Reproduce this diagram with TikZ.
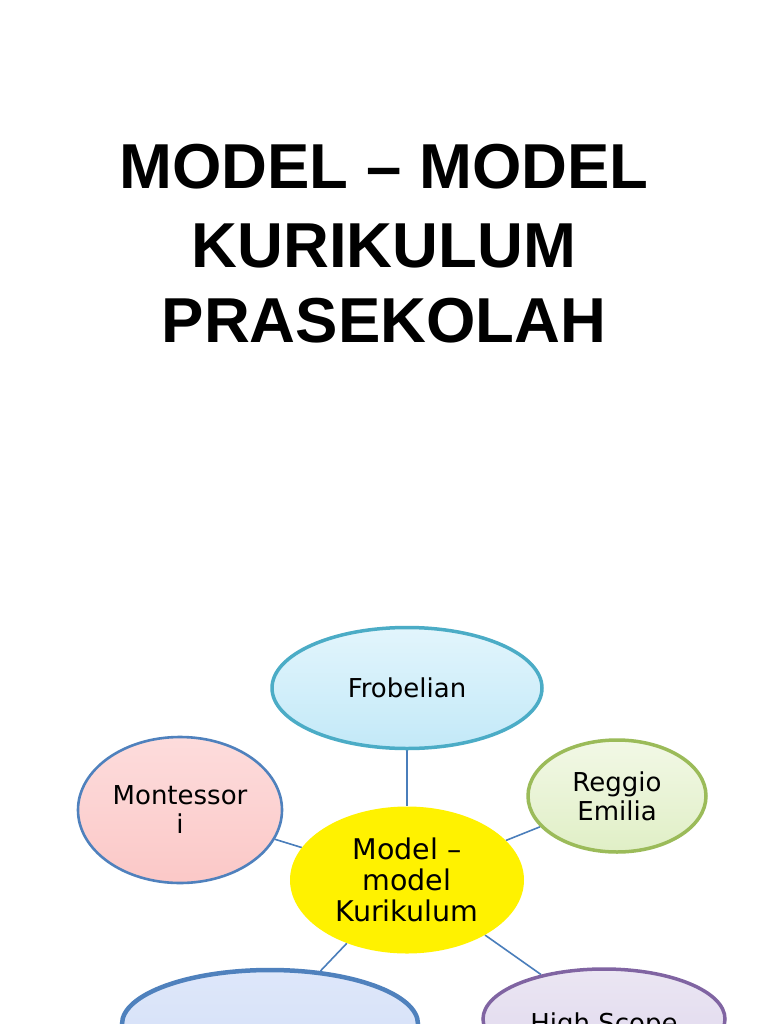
\documentclass[tikz,border=0pt]{standalone}
\usepackage{fontspec}
\setmainfont{DejaVu Sans}
\newfontfamily\titlefont{Liberation Sans}
\usetikzlibrary{shapes.geometric,backgrounds}
\definecolor{frobB}{HTML}{4BACC6}
\definecolor{frobT}{HTML}{E2F5FC}
\definecolor{frobU}{HTML}{C3E9F8}
\definecolor{monB}{HTML}{4F81BD}
\definecolor{monT}{HTML}{FDDCDC}
\definecolor{monU}{HTML}{FBC8C7}
\definecolor{regB}{HTML}{9BBB59}
\definecolor{regT}{HTML}{F2F8E6}
\definecolor{regU}{HTML}{E0EFC6}
\definecolor{kiB}{HTML}{4F81BD}
\definecolor{kiT}{HTML}{DEE7FA}
\definecolor{kiU}{HTML}{D3DFF7}
\definecolor{hsB}{HTML}{8064A2}
\definecolor{hsT}{HTML}{EBE6F3}
\definecolor{hsU}{HTML}{DFD7ED}
\definecolor{linkC}{HTML}{4A7EBB}
\tikzset{
  titleline/.style={anchor=base, inner sep=0pt, font=\titlefont\bfseries\fontsize{63.5}{76}\selectfont},
  bubble/.style={ellipse, inner sep=0pt, align=center, font=\fontsize{26}{29}\selectfont, text=black},
  link/.style={draw=linkC, line width=1.6pt}
}
\begin{document}
\begin{tikzpicture}[x=1pt,y=-1pt]
\clip (0,0) rectangle (768,1024);
% title
\node[titleline] (t1) at (384,189) {MODEL – MODEL};
\node[titleline] (t2) at (384,267) {KURIKULUM};
\node[titleline] (t3) at (384,342) {PRASEKOLAH};
% bubbles
\node[bubble, draw=frobB, line width=3.5pt, top color=frobT, bottom color=frobU,
      minimum width=270, minimum height=121] (frob) at (407,688) {Frobelian};
\node[bubble, draw=monB, line width=2.6pt, top color=monT, bottom color=monU,
      minimum width=204, minimum height=146] (mon) at (180,810) {Montessor\\i};
\node[bubble, draw=regB, line width=3.5pt, top color=regT, bottom color=regU,
      minimum width=178, minimum height=112] (reg) at (617,796) {Reggio\\Emilia};
\node[bubble, fill=yellow, minimum width=234, minimum height=147,
      font=\fontsize{28.5}{31}\selectfont] (mid) at (407,880) {Model –\\model\\Kurikulum};
\node[bubble, draw=kiB, line width=4.5pt, top color=kiT, bottom color=kiU,
      minimum width=296, minimum height=108] (ki) at (270,1024) {};
\node[bubble, draw=hsB, line width=3.5pt, top color=hsT, bottom color=hsU,
      minimum width=242, minimum height=100] (hs) at (604,1019) {};
\node[anchor=base, inner sep=0pt, font=\fontsize{26}{29}\selectfont] (hstext) at (604,1032) {High Scope};
% connectors and page background
\begin{scope}[on background layer]
\fill[white] (0,0) rectangle (768,1024);
\draw[link] (frob) -- (mid);
\draw[link] (mon) -- (mid);
\draw[link] (reg) -- (mid);
\draw[link] (ki) -- (mid);
\draw[link] (hs) -- (mid);
\end{scope}
\end{tikzpicture}
\end{document}
